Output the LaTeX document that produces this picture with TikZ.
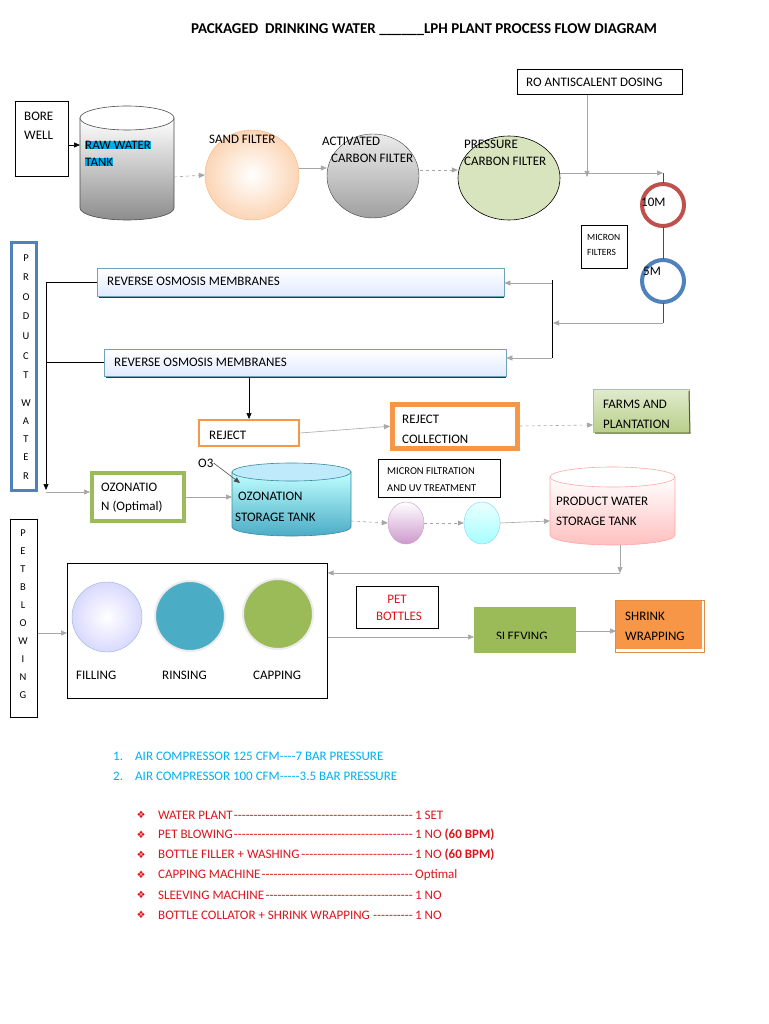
\documentclass[tikz,border=0pt]{standalone}
\usepackage{fontspec}
\setmainfont{Carlito}
\newfontfamily\symf{DejaVu Sans}
\usetikzlibrary{arrows.meta}
\definecolor{lblue}{RGB}{0,176,240}
\definecolor{lred}{RGB}{222,20,28}
\definecolor{orng}{RGB}{247,150,70}
\definecolor{ogreen}{RGB}{155,187,89}
\definecolor{oblue}{RGB}{79,129,189}
\definecolor{ored}{RGB}{192,80,77}
\definecolor{oteal}{RGB}{75,172,198}
\tikzset{
  x=1pt,y=-1pt,
  txt/.style={font=\fontsize{13}{15}\selectfont,inner sep=0pt,anchor=west},
  sm/.style={font=\fontsize{9.5}{11}\selectfont,inner sep=0pt,anchor=west},
  box/.style={draw=black,line width=0.8pt,fill=white},
  flow/.style={-{Triangle[length=6pt,width=5pt]},gray!70,line width=0.6pt},
  dflow/.style={flow,dashed},
  redtxt/.style={txt,text=lred},
}
\newcommand{\cyl}[8]{% x1 x2 ytop ybottom ry topcolor botcolor drawcolor
  \shade[top color=#6,bottom color=#7,draw=#8,line width=0.6pt]
    (#1,#3) -- (#1,#4) arc[start angle=180,end angle=0,x radius={(#2-#1)/2},y radius=#5] -- (#2,#3) -- cycle;
  \draw[fill=#6,draw=#8,line width=0.6pt] ({(#1+#2)/2},#3) ellipse [x radius={(#2-#1)/2},y radius=#5];}
\newcommand{\dd}{\mbox{-}}
\begin{document}
\begin{tikzpicture}
\useasboundingbox (0,0) rectangle (768,1024);
\fill[white] (0,0) rectangle (768,1024);
\node[font=\bfseries\fontsize{15}{17}\selectfont,inner sep=0pt] (title) at (424,30) {PACKAGED\ \ DRINKING WATER \_\_\_\_\_\_LPH PLANT PROCESS FLOW DIAGRAM};

% top row
\node[box,minimum width=165,minimum height=25,anchor=north west] (dose) at (517,69) {};
\node[txt] at (526,82) {RO ANTISCALENT DOSING};
\node[box,minimum width=53,minimum height=75,anchor=north west] (bore) at (15,101) {};
\node[txt] at (24,116) {BORE};
\node[txt] at (24,135) {WELL};
\cyl{80}{174}{118}{208}{12}{white}{gray!90}{gray!60!black}
\coordinate (tankR) at (174,177);
\node[txt,fill=cyan] (rawl) at (85,145) {RAW WATER};
\node[txt,fill=cyan] at (85,162) {TANK};
\draw[flow,black] (68,145) -- (80,145);

\shade[inner color=white,outer color=orng!40,draw=orng!70] (252,175) ellipse [x radius=47,y radius=45];
\node[inner sep=0pt,minimum width=94,minimum height=90] (sand) at (252,175) {};
\node[txt] at (209,139) {SAND FILTER};
\shade[top color=white!85!gray,bottom color=gray!75,draw=gray!50!black] (373,176) ellipse [x radius=46,y radius=42];
\node[inner sep=0pt,minimum width=92,minimum height=84] (act) at (373,176) {};
\node[txt] at (322,141) {ACTIVATED};
\node[txt] at (331,158) {CARBON FILTER};
\draw[fill=ogreen!40,draw=black,line width=0.6pt] (509,178) ellipse [x radius=51,y radius=42];
\node[inner sep=0pt,minimum width=102,minimum height=84] (pcf) at (509,178) {};
\node[txt] at (464,144) {PRESSURE};
\node[txt] at (464,161) {CARBON FILTER};

\draw[dflow] (tankR) -- (sand.west |- 0,175);
\draw[flow] (299,168) -- (act.west |- 0,168);
\draw[dflow] (420,170) -- (pcf.west |- 0,170);
\coordinate (j1) at (663,173);
\draw[flow] (560,173) -- (j1);
\draw[flow] (dose.south -| 587,0) -- (587,177);

\draw[ored,line width=4pt] (663,205) circle [radius=21];
\node (m10) at (663,205) [minimum size=44,inner sep=0pt]{};
\node[txt] at (641,202) {10M};
\draw[oblue,line width=4pt] (663,281) circle [radius=21];
\node (m5) at (663,281) [minimum size=44,inner sep=0pt]{};
\node[txt] at (643,271) {5M};
\draw[black!70] (j1) -- (m10.north);
\draw[black!70] (m10.south) -- (m5.north);
\node[box,line width=0.6pt,minimum width=46,minimum height=43,anchor=north west] (mf) at (581,225) {};
\node[sm] at (587,237) {MICRON};
\node[sm] at (587,252) {FILTERS};

% RO
\shade[top color=white,bottom color=cyan!30!blue!12,draw=cyan!40!gray] (97,268) rectangle (504,296);
\draw[teal!60!black,line width=1pt] (99,297) -- (504,297);
\node[inner sep=0pt,minimum width=407,minimum height=28,anchor=north west] (ro1) at (97,268) {};
\node[txt] at (107,281) {REVERSE OSMOSIS MEMBRANES};
\shade[top color=white,bottom color=cyan!30!blue!12,draw=cyan!40!gray] (104,349) rectangle (506,376);
\draw[teal!60!black,line width=1pt] (106,377) -- (506,377);
\node[inner sep=0pt,minimum width=402,minimum height=27,anchor=north west] (ro2) at (104,349) {};
\node[txt] at (114,362) {REVERSE OSMOSIS MEMBRANES};
\draw[black!70] (m5.south) -- (663,323) coordinate (c5);
\draw[flow] (c5) -- (553,323);
\draw[black] (552,280) -- (552,358);
\draw[flow] (552,283) -- (ro1.east |- 0,283);
\draw[flow] (552,358) -- (ro2.east |- 0,358);

% product water
\draw[oblue,line width=3pt] (11,242) rectangle (36,490);
\node (pw) at (23,366) [minimum width=27,minimum height=250]{};
\foreach \l/\yy in {P/258,R/277,O/297,D/316,U/336,C/356,T/375,W/403,A/421,T/439,E/457,R/476}
  \node[font=\fontsize{10.5}{12}\selectfont,inner sep=0pt] at (26,\yy) {\l};
\draw[black] (ro1.west |- 0,282) -- (46,282);
\draw[black] (ro2.west |- 0,362) -- (46,362);
\draw[flow,black] (46,282) -- (46,490);
\coordinate (c6) at (46,492);

% reject
\node[draw=orng,line width=2pt,minimum width=100,minimum height=26,anchor=north west] (rej) at (198,419) {};
\node[txt] at (209,435) {REJECT};
\draw[flow,black] (249,377) -- (rej.north -| 249,0);
\node[draw=orng,line width=4.5pt,fill=white,minimum width=125,minimum height=44,anchor=north west] (rc) at (390,402) {};
\begin{scope}
\clip (395,405) rectangle (512,443);
\node[txt] at (402,419) {REJECT};
\node[txt] at (402,439) {COLLECTION};
\end{scope}
\draw[flow] (rej.east) -- (rc.west);
\shade[top color=ogreen!30,bottom color=ogreen!70,draw=ogreen!80] (593,389) rectangle (689,432);
\draw[ogreen!50!black,line width=1pt] (689,391) -- (690,433) -- (595,433);
\node[inner sep=0pt,minimum width=96,minimum height=43,anchor=north west] (farm) at (593,389) {};
\begin{scope}
\clip (593,389) rectangle (689,430);
\node[txt] at (603,404) {FARMS AND};
\node[txt] at (603,424) {PLANTATION};
\end{scope}
\draw[dflow] (rc.east |- 0,426) -- (farm.west |- 0,425);

% ozonation
\node[draw=ogreen,line width=3.5pt,fill=white,minimum width=92,minimum height=48,anchor=north west] (oz) at (90,471) {};
\begin{scope}
\clip (94,475) rectangle (180,515);
\node[txt] at (101,487) {OZONATIO};
\node[txt] at (101,507) {N (Optimal)};
\end{scope}
\draw[flow] (c6) -- (oz.west |- 0,492);
\cyl{232}{351}{472}{527}{9}{cyan!25}{oteal}{oteal!80!black}
\node[inner sep=0pt,minimum width=119,minimum height=72,anchor=north west] (ozt) at (232,463) {};
\node[txt] at (238,496) {OZONATION};
\node[txt] at (235,517) {STORAGE TANK};
\node[txt] (o3) at (198,463) {O3};
\draw[flow,black!70] (o3.east) -- (240,483);
\draw[flow] (184,497) -- (232,497);

\node[box,line width=0.6pt,minimum width=122,minimum height=38,anchor=north west] (mfuv) at (378,459) {};
\node[sm,font=\fontsize{10.5}{12}\selectfont] at (387,471) {MICRON FILTRATION};
\node[sm,font=\fontsize{10.5}{12}\selectfont] at (387,488) {AND UV TREATMENT};
\shade[top color=white,bottom color=violet!40,draw=violet!40] (406,523) ellipse [x radius=18,y radius=21];
\node (e1) at (406,523) [minimum width=36,minimum height=42,inner sep=0pt]{};
\shade[top color=cyan!8,bottom color=cyan!35,draw=cyan!50] (482,523) ellipse [x radius=18,y radius=21];
\node (e2) at (482,523) [minimum width=36,minimum height=42,inner sep=0pt]{};
\draw[dflow] (351,521) -- (e1.west);
\draw[dflow] (e1.east) -- (e2.west);
\draw[flow] (e2.east) -- (550,521);
\cyl{550}{675}{477}{535}{10}{white}{red!25}{red!35}
\node[inner sep=0pt,minimum width=125,minimum height=80,anchor=north west] (pwt) at (550,467) {};
\node[txt] at (556,501) {PRODUCT WATER};
\node[txt] at (556,521) {STORAGE TANK};
\coordinate (c7) at (620,573);
\draw[flow] (620,545) -- (c7);

% filling box
\node[box,line width=0.7pt,minimum width=260,minimum height=135,anchor=north west] (fill) at (67,563) {};
\draw[flow] (c7) -- (fill.east |- 0,573);
\shade[inner color=white,outer color=blue!15,draw=oblue!60] (107,617) circle [radius=35];
\node (f1) at (107,617) [circle,minimum size=70]{};
\draw[fill=oteal,draw=gray!15,line width=2pt] (190,616) circle [radius=35];
\node (f2) at (190,616) [circle,minimum size=70]{};
\draw[fill=ogreen,draw=gray!15,line width=2pt] (278,614) circle [radius=35];
\node (f3) at (278,614) [circle,minimum size=70]{};
\node[txt] at (76,675) {FILLING};
\node[txt] at (162,675) {RINSING};
\node[txt] at (253,675) {CAPPING};

\node[box,line width=0.7pt,minimum width=27,minimum height=198,anchor=north west] (pet) at (10,519) {};
\foreach \l/\yy in {P/533,E/551,T/569,B/587,L/605,O/623,W/641,I/659,N/677,G/695}
  \node[font=\fontsize{10.5}{12}\selectfont,inner sep=0pt] at (23,\yy) {\l};
\draw[flow] (pet.east |- 0,633) -- (fill.west |- 0,633);

\node[box,line width=0.7pt,minimum width=82,minimum height=42,anchor=north west] (pb) at (356,586) {};
\node[text=lred,font=\fontsize{13}{15}\selectfont,inner sep=0pt] at (397,599) {PET};
\node[text=lred,font=\fontsize{13}{15}\selectfont,inner sep=0pt] at (399,616) {BOTTLES};
\node[fill=ogreen,minimum width=102,minimum height=46,anchor=north west,inner sep=0pt] (slv) at (474,607) {};
\begin{scope}
\clip (474,607) rectangle (576,638);
\node[txt] at (496,636) {SLEEVING};
\end{scope}
\draw[flow] (fill.east |- 0,637) -- (slv.west |- 0,637);
\draw[orng!60!brown,line width=1pt] (615,600) -- (704,600) -- (704,652) -- (615,652) -- cycle;
\node[fill=orng,minimum width=86,minimum height=48,anchor=north west,inner sep=0pt] (shr) at (616,601) {};
\node[txt] at (625,616) {SHRINK};
\node[txt] at (625,636) {WRAPPING};
\draw[flow] (slv.east |- 0,631) -- (shr.west |- 0,631);

% list
\node[txt,text=lblue] at (113,756) {1.};
\node[txt,text=lblue] at (135,756) {AIR COMPRESSOR 125 CFM\dd\dd\dd\dd7 BAR PRESSURE};
\node[txt,text=lblue] at (113,776) {2.};
\node[txt,text=lblue] at (135,776) {AIR COMPRESSOR 100 CFM\dd\dd\dd\dd\dd3.5 BAR PRESSURE};
\foreach \a/\b/\w/\yy in {WATER PLANT/1 SET/257/815,PET BLOWING/1 NO \textbf{(60 BPM)}/257/835,BOTTLE FILLER + WASHING/1 NO \textbf{(60 BPM)}/257/855,CAPPING MACHINE/Optimal/257/875,SLEEVING MACHINE/1 NO/257/895,BOTTLE COLLATOR + SHRINK WRAPPING/1 NO/257/915}{
  \node[text=lred,font=\symf\fontsize{10}{12}\selectfont,inner sep=0pt] at (141,\yy) {❖};
  \node[redtxt] at (158,\yy) {\makebox[\w pt][l]{\a\leaders\hbox{-}\hfill}\b};}
\end{tikzpicture}
\end{document}
